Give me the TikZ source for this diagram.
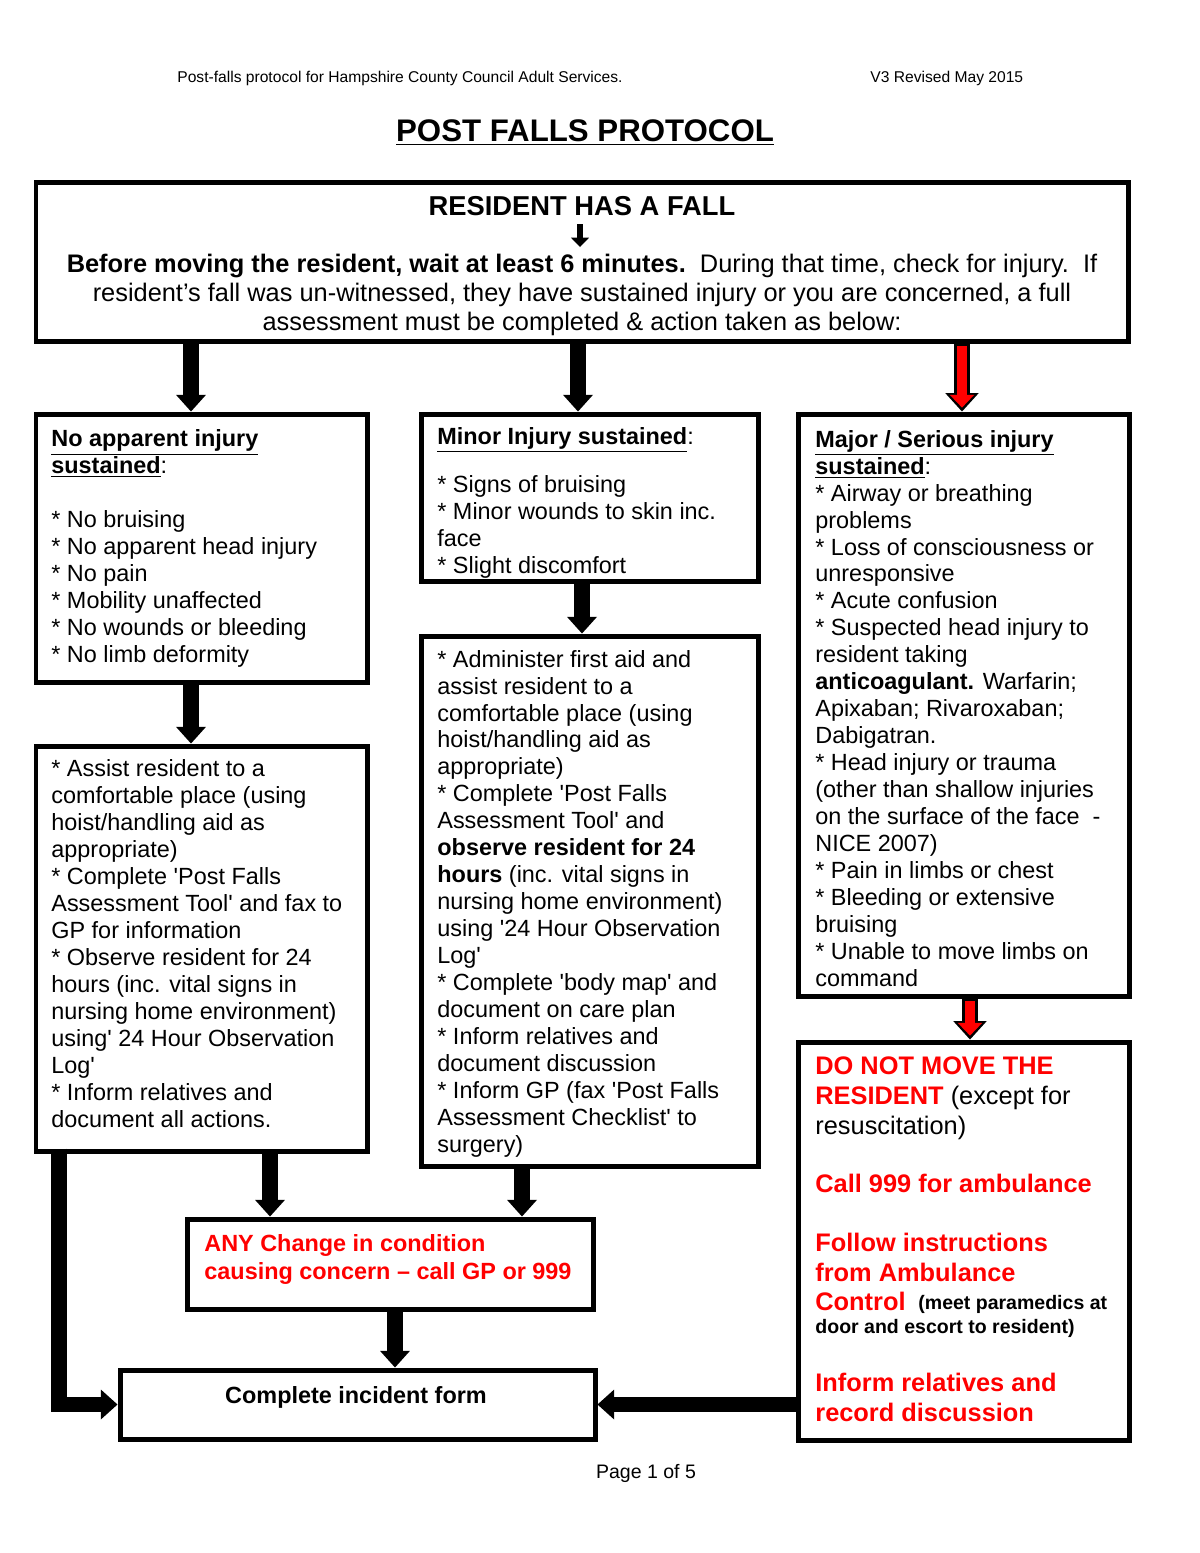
\documentclass[tikz,border=0pt]{standalone}
\usepackage{fontspec}
\setmainfont{Liberation Sans}
\usetikzlibrary{arrows.meta,fit,calc}
\definecolor{pred}{RGB}{255,0,0}
\newcommand\sq{\textquotesingle}
\begin{document}
\begin{tikzpicture}[x=0.018cm,y=-0.018cm,
  box/.style={draw, line width=0.09cm, inner sep=0pt},
  arr/.style={line width=0.28cm, -{Triangle[length=0.3cm,width=0.54cm,line width=0pt]}},
  arrout/.style={draw=black, line width=0.28cm, -{Triangle[length=0.33cm,width=0.6cm,line width=0pt]}},
  arrin/.style={draw=pred, line width=0.17cm, -{Triangle[length=0.23cm,width=0.44cm,line width=0pt]}},
  smallarr/.style={line width=0.11cm, -{Triangle[length=0.17cm,width=0.33cm,line width=0pt]}},
  txt/.style={anchor=base west, inner sep=0pt, align=left, font=\fontsize{12pt}{13.8pt}\selectfont},
  ctxt/.style={anchor=base, inner sep=0pt, align=center},
  redbf/.style={text=pred, font=\fontsize{13pt}{15.3pt}\selectfont\bfseries}
]
\useasboundingbox (0,0) rectangle (1200,1553);

% header
\node[anchor=base west, inner sep=0pt, font=\fontsize{8pt}{9pt}\selectfont] (hdl) at (177,82) {Post-falls protocol for Hampshire County Council Adult Services.};
\node[anchor=base west, inner sep=0pt, font=\fontsize{8pt}{9pt}\selectfont] (hdr) at (870,82) {V3 Revised May 2015};
\node[ctxt, font=\fontsize{16pt}{18pt}\selectfont\bfseries] (title) at (585,141) {\underline{POST FALLS PROTOCOL}};

% boxes
\node[box, fit={(36,182) (1128,341)}] (top) {};
\node[box, fit={(36,414) (367,682)}] (left1) {};
\node[box, fit={(421,414) (758,581)}] (mid1) {};
\node[box, fit={(798,414) (1129,996)}] (right1) {};
\node[box, fit={(36,746) (367,1151)}] (left2) {};
\node[box, fit={(421,636) (758,1166)}] (mid2) {};
\node[box, fit={(187,1219) (593,1309)}] (redbox) {};
\node[box, fit={(120,1370) (595,1439)}] (complete) {};
\node[box, fit={(798,1042) (1129,1440)}] (right2) {};

% top box text
\node[ctxt, font=\fontsize{14pt}{16pt}\selectfont\bfseries] (fall) at (582,215) {RESIDENT HAS A FALL};
\coordinate (sa1) at (580,224);
\coordinate (sa2) at (580,247);
\draw[smallarr] (sa1) -- (sa2);
\node[ctxt, font=\fontsize{13pt}{14.85pt}\selectfont] (toptext) at (582,330)
 {\textbf{Before moving the resident, wait at least 6 minutes.}\ \ During that time, check for injury.\ \ If\\
  resident’s fall was un-witnessed, they have sustained injury or you are concerned, a full\\
  assessment must be completed \& action taken as below:};

% left1 text
\node[txt] (l1t) at (51,662)
 {\underline{\textbf{No apparent injury}}\\
  \underline{\textbf{sustained}}:\\[13.8pt]
  * No bruising\\
  * No apparent head injury\\
  * No pain\\
  * Mobility unaffected\\
  * No wounds or bleeding\\
  * No limb deformity};

% mid1 text
\node[txt] (m1t) at (437,573)
 {\underline{\textbf{Minor Injury sustained}}:\\[10.8pt]
  * Signs of bruising\\
  * Minor wounds to skin inc.\\
  face\\
  * Slight discomfort};

% right1 text
\node[txt] (r1t) at (815,986)
 {\underline{\textbf{Major / Serious injury}}\\
  \underline{\textbf{sustained}}:\\
  * Airway or breathing\\
  problems\\
  * Loss of consciousness or\\
  unresponsive\\
  * Acute confusion\\
  * Suspected head injury to\\
  resident taking\\
  \textbf{anticoagulant.} Warfarin;\\
  Apixaban; Rivaroxaban;\\
  Dabigatran.\\
  * Head injury or trauma\\
  (other than shallow injuries\\
  on the surface of the face\ \ -\\
  NICE 2007)\\
  * Pain in limbs or chest\\
  * Bleeding or extensive\\
  bruising\\
  * Unable to move limbs on\\
  command};

% mid2 text
\node[txt] (m2t) at (437,1152)
 {* Administer first aid and\\
  assist resident to a\\
  comfortable place (using\\
  hoist/handling aid as\\
  appropriate)\\
  * Complete \sq Post Falls\\
  Assessment Tool\sq{} and\\
  \textbf{observe resident for 24}\\
  \textbf{hours} (inc. vital signs in\\
  nursing home environment)\\
  using \sq 24 Hour Observation\\
  Log\sq\\
  * Complete \sq body map\sq{} and\\
  document on care plan\\
  * Inform relatives and\\
  document discussion\\
  * Inform GP (fax \sq Post Falls\\
  Assessment Checklist\sq{} to\\
  surgery)};

% left2 text
\node[txt] (l2t) at (51,1127)
 {* Assist resident to a\\
  comfortable place (using\\
  hoist/handling aid as\\
  appropriate)\\
  * Complete \sq Post Falls\\
  Assessment Tool\sq{} and fax to\\
  GP for information\\
  * Observe resident for 24\\
  hours (inc. vital signs in\\
  nursing home environment)\\
  using\sq{} 24 Hour Observation\\
  Log\sq\\
  * Inform relatives and\\
  document all actions.};

% red box text
\node[txt, text=pred, font=\fontsize{12pt}{14.3pt}\selectfont\bfseries] (rbt) at (204,1279)
 {ANY Change in condition\\
  causing concern -- call GP or 999};

% complete text
\node[ctxt, font=\fontsize{12pt}{14pt}\selectfont\bfseries] (cit) at (356,1403) {Complete incident form};

% right2 text
\node[txt, font=\fontsize{13pt}{15.3pt}\selectfont] (r2a) at (815,1134)
 {\textcolor{pred}{\textbf{DO NOT MOVE THE}}\\
  \textcolor{pred}{\textbf{RESIDENT}} (except for\\
  resuscitation)};
\node[txt, redbf] (r2b) at (815,1192) {Call 999 for ambulance};
\node[txt, redbf] (r2c0) at (815,1251) {Follow instructions};
\node[txt, redbf] (r2c1) at (815,1281) {from Ambulance};
\node[txt, redbf] (r2c2) at (815,1310) {Control};
\node[txt, font=\fontsize{10pt}{12pt}\selectfont\bfseries] (r2c3) at (918,1309) {(meet paramedics at};
\node[txt, font=\fontsize{10pt}{12pt}\selectfont\bfseries] (r2c4) at (815,1333) {door and escort to resident)};
\node[txt, redbf] (r2d) at (815,1421)
 {Inform relatives and\\ record discussion};

% connectors
\coordinate (xa) at (191,0);
\coordinate (xb) at (578,0);
\coordinate (xc) at (962,0);
\coordinate (xd) at (582,0);
\coordinate (xe) at (270,0);
\coordinate (xf) at (522,0);
\coordinate (xg) at (395,0);
\coordinate (xh) at (59,0);
\coordinate (xi) at (970,0);

\draw[arr] (top.south -| xa) -- (left1.north -| xa);
\draw[arr] (top.south -| xb) -- (mid1.north -| xb);
\draw[arrout] (top.south -| xc) -- (right1.north -| xc);
\draw[arrin] ([yshift=-0.05cm]top.south -| xc) -- ([yshift=0.07cm]right1.north -| xc);
\draw[arr] (mid1.south -| xd) -- (mid2.north -| xd);
\draw[arr] (left1.south -| xa) -- (left2.north -| xa);
\draw[arr] (left2.south -| xe) -- (redbox.north -| xe);
\draw[arr] (mid2.south -| xf) -- (redbox.north -| xf);
\draw[arr] (redbox.south -| xg) -- (complete.north -| xg);
\draw[arr] ([yshift=0.09cm]left2.south -| xh) |- (complete.west);
\draw[arr] (right2.west |- complete.west) -- (complete.east);
\draw[arrout] (right1.south -| xi) -- (right2.north -| xi);
\draw[arrin] ([yshift=-0.05cm]right1.south -| xi) -- ([yshift=0.07cm]right2.north -| xi);

% footer
\node[ctxt, font=\fontsize{10pt}{12pt}\selectfont] (page) at (646,1478) {Page 1 of 5};
\end{tikzpicture}
\end{document}
